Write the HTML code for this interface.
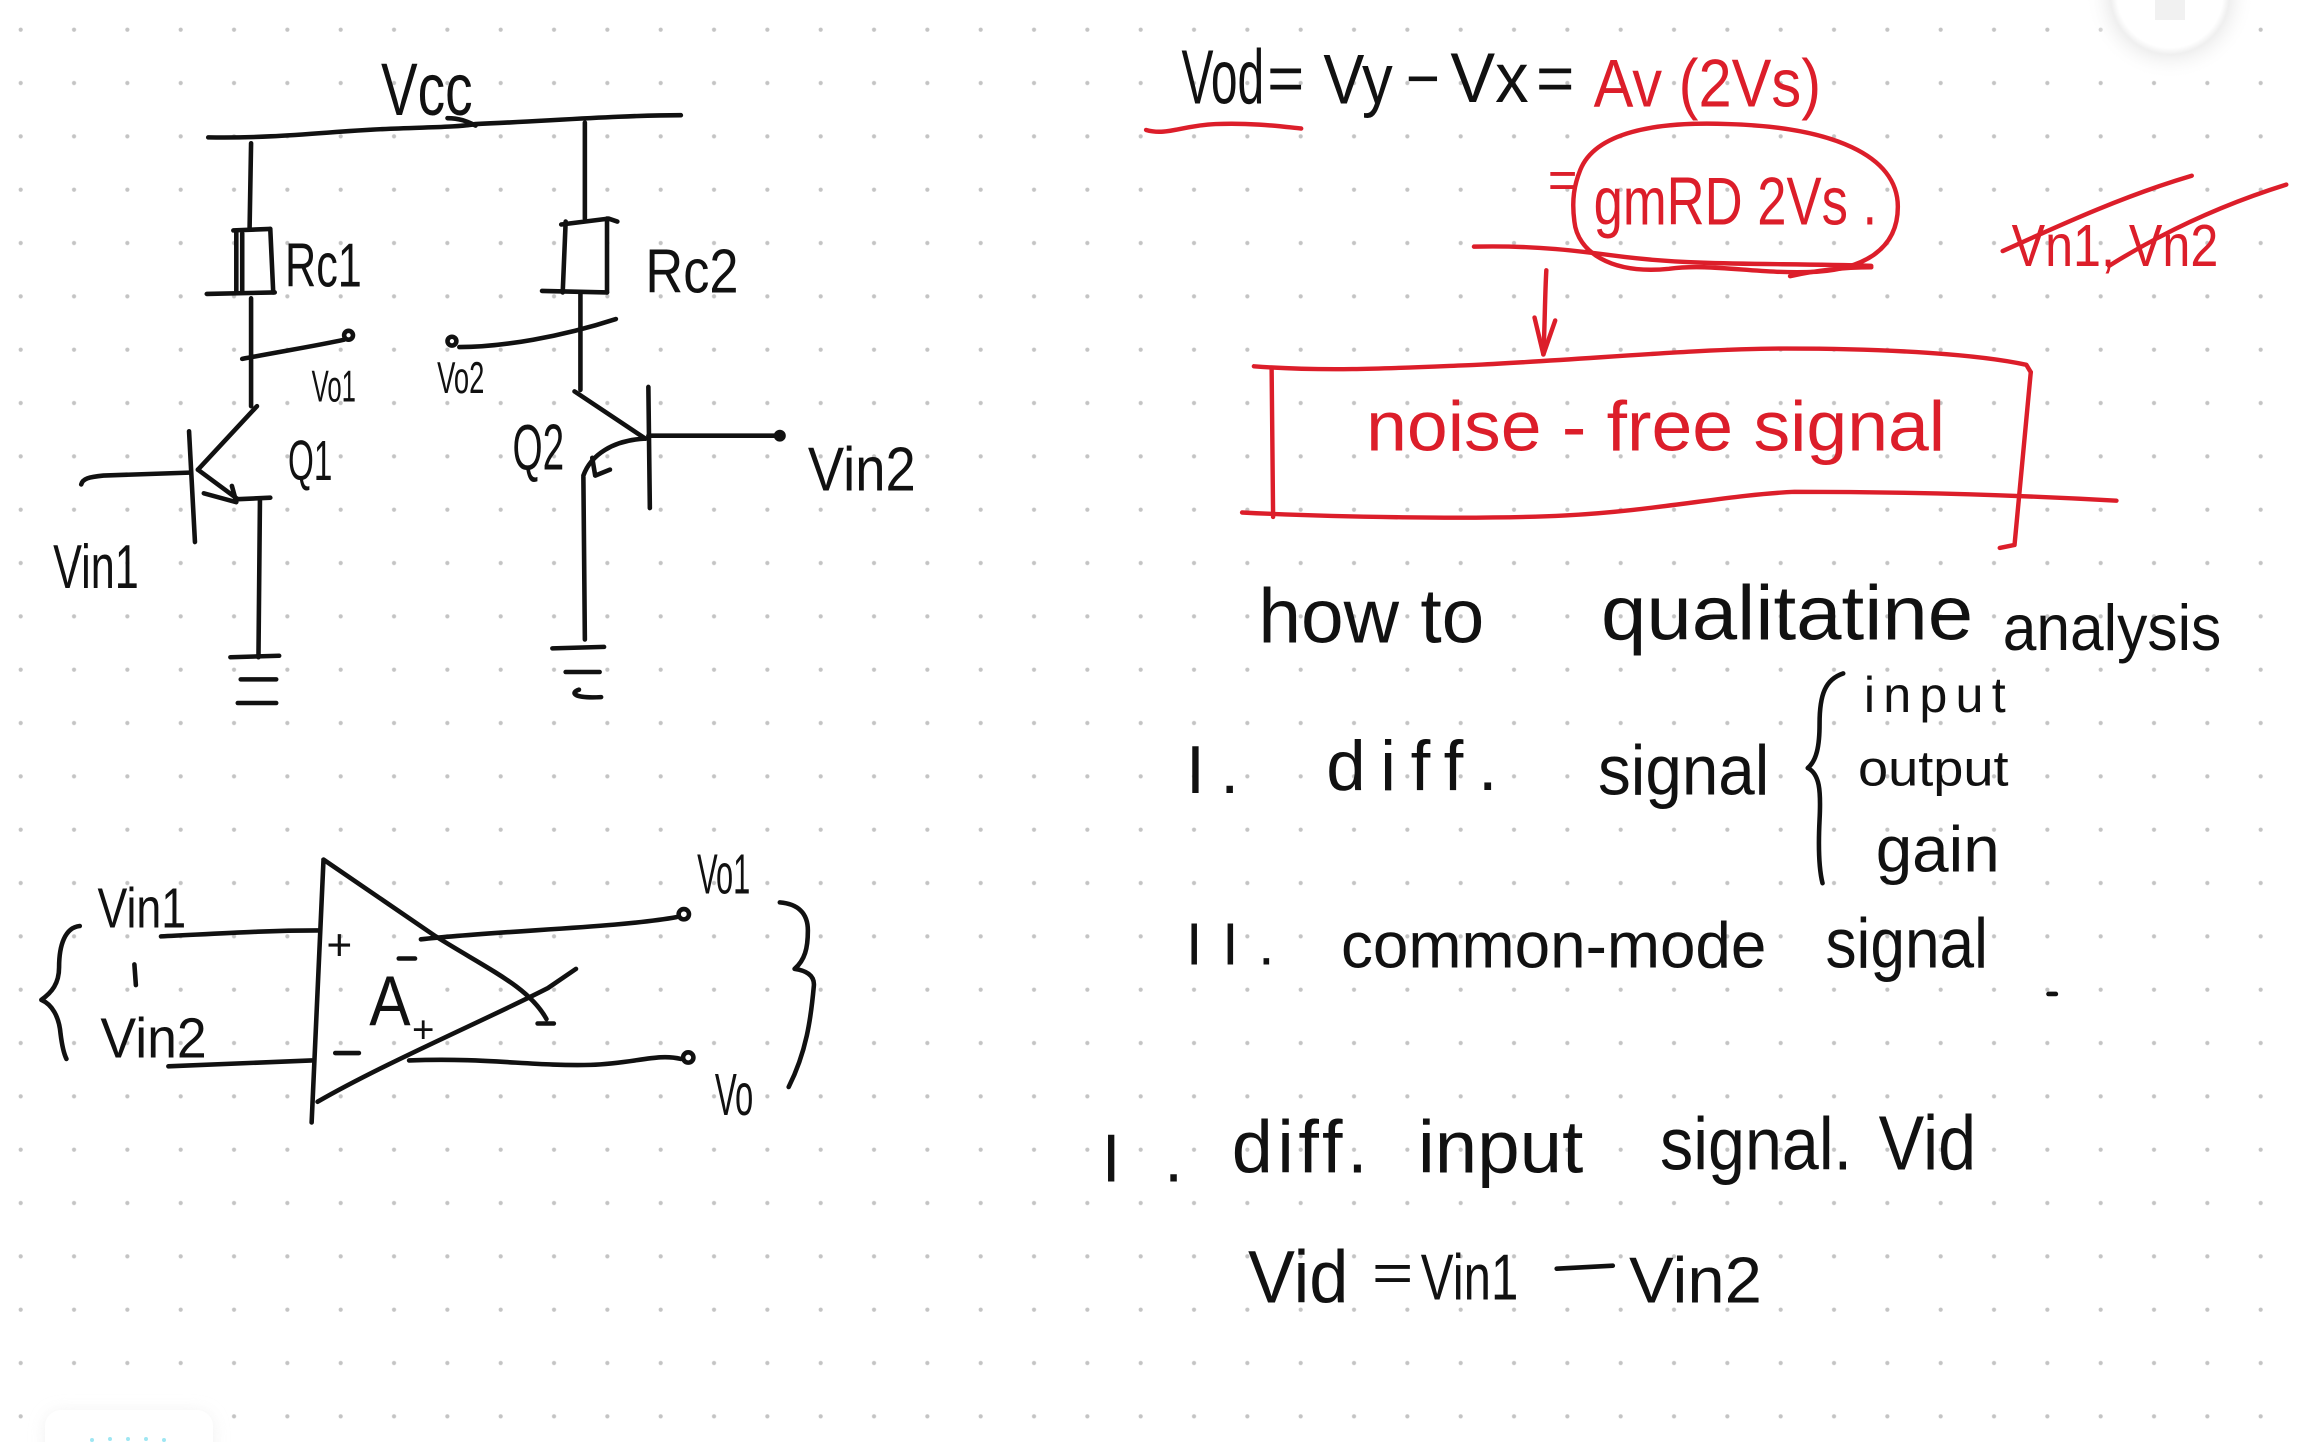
<!DOCTYPE html>
<html><head><meta charset="utf-8">
<style>
html,body{margin:0;padding:0;background:#fff;}
svg{display:block;}
text{font-family:"Liberation Sans",sans-serif;}
</style></head>
<body>
<svg width="2304" height="1442" viewBox="0 0 2304 1442" xmlns="http://www.w3.org/2000/svg">
<defs>
<pattern id="dots" patternUnits="userSpaceOnUse" x="-5.97" y="3.03" width="53.333" height="53.333">
<circle cx="26.667" cy="26.667" r="2.1" fill="#c4c4c4"/>
</pattern>
<radialGradient id="halo" cx="0.5" cy="0.5" r="0.5">
<stop offset="0" stop-color="#ffffff"/>
<stop offset="0.62" stop-color="#ffffff"/>
<stop offset="0.7" stop-color="#efefef"/>
<stop offset="1" stop-color="#ffffff" stop-opacity="0"/>
</radialGradient>
<filter id="sh" x="-30%" y="-30%" width="160%" height="160%">
<feGaussianBlur stdDeviation="8"/>
</filter>
</defs>
<rect width="2304" height="1442" fill="#fff"/>
<rect width="2304" height="1442" fill="url(#dots)"/>

<!-- top-right faint UI blob -->
<circle cx="2170" cy="-5" r="85" fill="url(#halo)"/>
<rect x="2155" y="0" width="30" height="20" fill="#e8e8e8" opacity="0.6"/>

<!-- bottom-left faint card -->
<rect x="45" y="1412" width="168" height="60" rx="16" fill="#e8e8e8" filter="url(#sh)" opacity="0.6"/>
<rect x="45" y="1410" width="168" height="60" rx="16" fill="#fff"/>
<g fill="#9fe6f2"><circle cx="92" cy="1440" r="2"/><circle cx="110" cy="1439" r="2"/><circle cx="128" cy="1439" r="2"/><circle cx="146" cy="1439" r="2"/><circle cx="164" cy="1440" r="2"/></g>

<g transform="scale(1.476923)">
<!-- ============ BLACK STROKES ============ -->
<g fill="none" stroke="#111" stroke-width="3.1" stroke-linecap="round" stroke-linejoin="round">
<!-- Vcc rail -->
<path d="M141,93 C190,94 230,88 270,87 C295,86 310,86 322,84 C370,82 420,78 461,78"/>
<path d="M303,80 C311,80 316,82 322,85"/>
<!-- left branch -->
<path d="M170,97 L169,154"/>
<path d="M158,156 L183,155"/>
<path d="M160,157 L160,198"/>
<path d="M164,158 L164,197"/>
<path d="M183,155 L185,198"/>
<path d="M140,199 L186,198"/>
<path d="M170,202 L170,275"/>
<path d="M164,243 C190,238 215,234 233,230"/>
<circle cx="236" cy="227" r="3"/>
<!-- Q1 -->
<path d="M174,275 L134,318"/>
<path d="M128,292 L132,367"/>
<path d="M134,318 L161,338"/>
<path d="M138,334 L160,340 L157,329"/>
<path d="M161,338 L183,337"/>
<path d="M176,339 L175,445"/>
<path d="M156,445 L189,444"/>
<path d="M163,460 L187,460"/>
<path d="M161,476 L187,476"/>
<path d="M55,328 C56,324 60,323 70,322 L128,320"/>
<!-- right branch -->
<path d="M396,83 L396,148"/>
<path d="M380,152 L412,148 L418,150"/>
<path d="M383,150 L381,198"/>
<path d="M411,148 L411,198"/>
<path d="M367,197 L411,198"/>
<path d="M393,199 L393,264"/>
<path d="M417,216 C380,228 340,235 311,235"/>
<circle cx="306" cy="231" r="3"/>
<!-- Q2 -->
<path d="M389,265 L437,297"/>
<path d="M439,262 L440,344"/>
<path d="M439,295 L526,295"/>
<circle cx="528" cy="295" r="2.5" fill="#111"/>
<path d="M437,297 C415,298 400,308 395,322"/>
<path d="M401,310 L403,322 L413,318"/>
<path d="M395,323 L396,433"/>
<path d="M374,439 L409,438"/>
<path d="M383,455 L406,455"/>
<path d="M392,467 C386,469 388,473 407,472"/>
<!-- op amp -->
<path d="M219,583 L211,760"/>
<path d="M219,582 L295,634 C330,656 358,668 370,690 M364,693 L375,693"/>
<path d="M215,746 C260,720 330,690 371,669 L390,656"/>
<path d="M109,634 C150,632 180,630 215,630"/>
<path d="M114,722 L211,718"/>
<path d="M285,636 C340,630 420,628 458,621"/>
<circle cx="463" cy="619" r="3.5"/>
<path d="M277,718 C330,716 360,722 400,721 C430,720 445,713 461,717"/>
<circle cx="466" cy="716" r="3.5"/>
<path d="M227,713 L243,713"/>
<path d="M270,649 L281,649"/>
<path d="M91,653 L92,667"/>
<!-- braces -->
<path d="M54,627 C44,628 40,640 40,655 C40,666 35,672 28,677 C35,680 40,688 41,700 C42,708 43,713 45,717"/>
<path d="M528,611 C540,612 547,618 547,630 C547,642 545,650 538,656 C545,657 552,660 551,668 C549,690 546,712 534,736"/>
<!-- "{" for input/output/gain -->
<path d="M1248,456 C1236,460 1232,470 1232,490 C1232,505 1230,515 1224,520 C1232,524 1233,535 1232,555 C1231,575 1232,590 1234,598"/>
<!-- tiny dash -->
<path d="M1387,673 L1392,673"/>
<path d="M1054,859 L1092,857"/>
</g>

<!-- ============ RED STROKES ============ -->
<g fill="none" stroke="#dc1e2a" stroke-width="3" stroke-linecap="round" stroke-linejoin="round">
<path d="M776,88 C790,92 800,85 823,84 C850,83 870,86 881,87"/>
<path d="M1070,115 C1080,90 1120,82 1170,84 C1240,86 1285,105 1285,140 C1285,170 1260,182 1230,184 C1190,186 1160,178 1130,182 C1090,186 1068,170 1066,150 C1064,135 1066,125 1070,115"/>
<path d="M998,167 C1040,166 1070,170 1100,174 C1150,180 1200,178 1267,180"/>
<path d="M1212,187 C1230,183 1250,181 1267,181"/>
<path d="M1047,183 C1046,200 1046,220 1045,240"/>
<path d="M1039,215 L1045,240 L1053,217"/>
<path d="M1356,170 C1400,150 1440,132 1484,119"/>
<path d="M1428,180 C1460,160 1500,140 1548,125"/>
<path d="M849,248 C900,252 950,249 1000,247 C1080,243 1150,236 1210,236 C1280,236 1340,240 1372,247 L1375,252"/>
<path d="M861,250 L862,350"/>
<path d="M1375,252 L1364,369 L1354,371"/>
<path d="M841,347 C900,350 1000,352 1060,349 C1120,346 1170,335 1215,333 C1300,333 1380,336 1433,339"/>
</g>

<!-- ============ BLACK TEXT ============ -->
<g fill="#111">
<text x="258" y="78" font-size="50" textLength="62" lengthAdjust="spacingAndGlyphs">Vcc</text>
<text x="193" y="194" font-size="42" textLength="52" lengthAdjust="spacingAndGlyphs">Rc1</text>
<text x="437" y="198" font-size="42" textLength="63" lengthAdjust="spacingAndGlyphs">Rc2</text>
<text x="211" y="272" font-size="30" textLength="30" lengthAdjust="spacingAndGlyphs">Vo1</text>
<text x="296" y="266" font-size="30" textLength="32" lengthAdjust="spacingAndGlyphs">Vo2</text>
<text x="195" y="325" font-size="38" textLength="30" lengthAdjust="spacingAndGlyphs">Q1</text>
<text x="347" y="318" font-size="44" textLength="35" lengthAdjust="spacingAndGlyphs">Q2</text>
<text x="36" y="398" font-size="42" textLength="58" lengthAdjust="spacingAndGlyphs">Vin1</text>
<text x="547" y="332" font-size="42" textLength="73" lengthAdjust="spacingAndGlyphs">Vin2</text>

<text x="66" y="628" font-size="38" textLength="60" lengthAdjust="spacingAndGlyphs">Vin1</text>
<text x="68" y="716" font-size="38" textLength="72" lengthAdjust="spacingAndGlyphs">Vin2</text>
<text x="472" y="605" font-size="38" textLength="36" lengthAdjust="spacingAndGlyphs">Vo1</text>
<text x="484" y="755" font-size="40" textLength="26" lengthAdjust="spacingAndGlyphs">Vo</text>
<text x="221" y="650" font-size="30">+</text>
<text x="250" y="694" font-size="48" textLength="28" lengthAdjust="spacingAndGlyphs">A</text>
<text x="279" y="706" font-size="26">+</text>

<text x="800" y="70" font-size="52" textLength="56" lengthAdjust="spacingAndGlyphs">Vod</text>
<text x="858" y="68" font-size="44" textLength="25" lengthAdjust="spacingAndGlyphs">=</text>
<text x="896" y="70" font-size="48" textLength="47" lengthAdjust="spacingAndGlyphs">Vy</text>
<text x="952" y="68" font-size="44" textLength="23" lengthAdjust="spacingAndGlyphs">−</text>
<text x="982" y="69" font-size="48" textLength="53" lengthAdjust="spacingAndGlyphs">Vx</text>
<text x="1040" y="68" font-size="44" textLength="26" lengthAdjust="spacingAndGlyphs">=</text>

<text x="852" y="435" font-size="52" textLength="153" lengthAdjust="spacingAndGlyphs">how to</text>
<text x="1084" y="433" font-size="52" textLength="252" lengthAdjust="spacingAndGlyphs">qualitatine</text>
<text x="1356" y="440" font-size="44" textLength="148" lengthAdjust="spacingAndGlyphs">analysis</text>
<text x="1262" y="482" font-size="34" textLength="96" lengthAdjust="spacing">input</text>
<text x="803" y="537" font-size="46" textLength="36" lengthAdjust="spacing">I.</text>
<text x="898" y="535" font-size="48" textLength="116" lengthAdjust="spacing">diff.</text>
<text x="1082" y="538" font-size="48" textLength="116" lengthAdjust="spacingAndGlyphs">signal</text>
<text x="1258" y="532" font-size="34" textLength="102" lengthAdjust="spacingAndGlyphs">output</text>
<text x="1270" y="590" font-size="44" textLength="84" lengthAdjust="spacingAndGlyphs">gain</text>
<text x="803" y="653" font-size="40" textLength="60" lengthAdjust="spacing">II.</text>
<text x="908" y="655" font-size="44" textLength="288" lengthAdjust="spacingAndGlyphs">common-mode</text>
<text x="1236" y="655" font-size="48" textLength="110" lengthAdjust="spacingAndGlyphs">signal</text>

<text x="746" y="800" font-size="46" textLength="55" lengthAdjust="spacing">I.</text>
<text x="834" y="794" font-size="50" textLength="92" lengthAdjust="spacing">diff.</text>
<text x="960" y="794" font-size="50" textLength="112" lengthAdjust="spacingAndGlyphs">input</text>
<text x="1124" y="792" font-size="50" textLength="130" lengthAdjust="spacingAndGlyphs">signal.</text>
<text x="1272" y="792" font-size="52" textLength="66" lengthAdjust="spacingAndGlyphs">Vid</text>
<text x="845" y="882" font-size="50" textLength="68" lengthAdjust="spacingAndGlyphs">Vid</text>
<text x="929" y="874" font-size="36" textLength="28" lengthAdjust="spacingAndGlyphs">=</text>
<text x="962" y="880" font-size="44" textLength="66" lengthAdjust="spacingAndGlyphs">Vin1</text>
<text x="1103" y="882" font-size="44" textLength="90" lengthAdjust="spacingAndGlyphs">Vin2</text>
</g>

<!-- ============ RED TEXT ============ -->
<g fill="#dc1e2a">
<text x="1079" y="72" font-size="46" textLength="154" lengthAdjust="spacingAndGlyphs">Av (2Vs)</text>
<text x="1048" y="134" font-size="36" textLength="20" lengthAdjust="spacingAndGlyphs">=</text>
<text x="1079" y="152" font-size="46" textLength="192" lengthAdjust="spacingAndGlyphs">gmRD 2Vs .</text>
<text x="1362" y="180" font-size="40" textLength="140" lengthAdjust="spacingAndGlyphs">Vn1, Vn2</text>
<text x="925" y="305" font-size="48" textLength="392" lengthAdjust="spacingAndGlyphs">noise - free signal</text>
</g>
</g>
</svg>
</body></html>
